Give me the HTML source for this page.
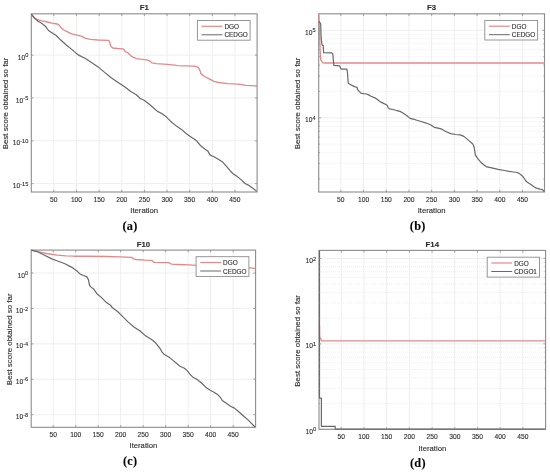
<!DOCTYPE html>
<html><head><meta charset="utf-8"><title>Convergence curves</title>
<style>
html,body{margin:0;padding:0;background:#fff;}
body{width:550px;height:473px;overflow:hidden;}
svg{display:block;}
text{font-family:"Liberation Sans",Arial,sans-serif;fill:#2e2e2e;stroke:#2e2e2e;stroke-width:0.12px;}
text.sub{font-family:"Liberation Serif",serif;font-weight:bold;font-size:12.3px;letter-spacing:0.3px;fill:#000;}
</style></head><body>
<svg width="550" height="473" viewBox="0 0 550 473">
<rect width="550" height="473" fill="#fff"/>
<g>
<g>
<line x1="53.84" y1="13.80" x2="53.84" y2="192.00" stroke="#eeeeee" stroke-width="1"/>
<line x1="76.48" y1="13.80" x2="76.48" y2="192.00" stroke="#eeeeee" stroke-width="1"/>
<line x1="99.12" y1="13.80" x2="99.12" y2="192.00" stroke="#eeeeee" stroke-width="1"/>
<line x1="121.76" y1="13.80" x2="121.76" y2="192.00" stroke="#eeeeee" stroke-width="1"/>
<line x1="144.40" y1="13.80" x2="144.40" y2="192.00" stroke="#eeeeee" stroke-width="1"/>
<line x1="167.04" y1="13.80" x2="167.04" y2="192.00" stroke="#eeeeee" stroke-width="1"/>
<line x1="189.68" y1="13.80" x2="189.68" y2="192.00" stroke="#eeeeee" stroke-width="1"/>
<line x1="212.32" y1="13.80" x2="212.32" y2="192.00" stroke="#eeeeee" stroke-width="1"/>
<line x1="234.96" y1="13.80" x2="234.96" y2="192.00" stroke="#eeeeee" stroke-width="1"/>
<line x1="31.30" y1="55.10" x2="257.10" y2="55.10" stroke="#eeeeee" stroke-width="1"/>
<line x1="31.30" y1="97.93" x2="257.10" y2="97.93" stroke="#eeeeee" stroke-width="1"/>
<line x1="31.30" y1="140.77" x2="257.10" y2="140.77" stroke="#eeeeee" stroke-width="1"/>
<line x1="31.30" y1="183.60" x2="257.10" y2="183.60" stroke="#eeeeee" stroke-width="1"/>
<rect x="31.30" y="13.80" width="225.80" height="178.20" fill="none" stroke="#8c8c8c" stroke-width="1.1"/>
<polyline points="31.30,14.20 34.40,18.00 37.60,19.60 42.00,20.90 47.50,22.00 51.80,23.10 57.30,24.00 58.90,24.90 61.10,27.80 63.80,30.00 67.10,31.60 71.50,33.80 76.90,35.10 81.30,36.20 85.00,38.20 90.50,39.30 98.10,40.00 108.50,40.40 109.50,41.50 110.60,45.80 112.80,48.00 117.70,48.50 123.20,48.80 124.30,50.20 125.40,51.80 127.50,52.40 129.70,54.50 131.90,56.70 136.30,58.60 140.60,59.20 146.50,59.80 149.30,60.60 152.00,62.90 156.40,63.60 167.30,64.40 174.90,65.10 177.10,65.60 185.80,65.80 193.50,66.10 196.70,66.60 198.50,67.70 200.00,70.60 200.90,73.60 204.50,76.50 209.20,78.90 213.90,81.30 218.60,82.50 228.10,83.60 237.60,84.20 242.30,84.60 245.80,85.40 257.00,86.00" fill="none" stroke="#e28a8a" stroke-width="1.35" stroke-linejoin="round"/>
<polyline points="31.30,14.20 34.40,18.00 38.20,21.30 42.00,23.50 45.30,26.20 48.50,30.50 51.80,32.70 56.20,35.50 60.50,39.80 66.00,44.70 71.50,49.10 75.80,52.90 79.10,55.40 85.00,58.20 91.50,62.50 98.10,66.90 104.60,72.40 111.20,77.80 117.70,82.20 124.30,86.50 130.80,91.50 136.30,94.70 140.00,98.30 144.40,100.50 148.70,103.70 153.10,107.50 157.50,111.40 161.80,113.50 166.20,116.80 170.50,121.20 177.10,126.60 181.50,129.40 185.80,133.20 190.20,136.50 194.50,139.20 197.00,141.20 200.10,145.20 205.20,149.20 207.70,150.90 210.20,155.10 214.00,156.80 217.90,159.10 222.90,162.30 226.70,166.70 230.50,171.20 233.10,173.70 236.90,176.30 240.70,179.40 245.10,183.50 248.30,185.10 252.10,187.70 256.80,191.40" fill="none" stroke="#686868" stroke-width="1.2" stroke-linejoin="round"/>
<line x1="53.84" y1="192.00" x2="53.84" y2="189.80" stroke="#8c8c8c" stroke-width="0.8"/>
<line x1="53.84" y1="13.80" x2="53.84" y2="16.00" stroke="#8c8c8c" stroke-width="0.8"/>
<line x1="76.48" y1="192.00" x2="76.48" y2="189.80" stroke="#8c8c8c" stroke-width="0.8"/>
<line x1="76.48" y1="13.80" x2="76.48" y2="16.00" stroke="#8c8c8c" stroke-width="0.8"/>
<line x1="99.12" y1="192.00" x2="99.12" y2="189.80" stroke="#8c8c8c" stroke-width="0.8"/>
<line x1="99.12" y1="13.80" x2="99.12" y2="16.00" stroke="#8c8c8c" stroke-width="0.8"/>
<line x1="121.76" y1="192.00" x2="121.76" y2="189.80" stroke="#8c8c8c" stroke-width="0.8"/>
<line x1="121.76" y1="13.80" x2="121.76" y2="16.00" stroke="#8c8c8c" stroke-width="0.8"/>
<line x1="144.40" y1="192.00" x2="144.40" y2="189.80" stroke="#8c8c8c" stroke-width="0.8"/>
<line x1="144.40" y1="13.80" x2="144.40" y2="16.00" stroke="#8c8c8c" stroke-width="0.8"/>
<line x1="167.04" y1="192.00" x2="167.04" y2="189.80" stroke="#8c8c8c" stroke-width="0.8"/>
<line x1="167.04" y1="13.80" x2="167.04" y2="16.00" stroke="#8c8c8c" stroke-width="0.8"/>
<line x1="189.68" y1="192.00" x2="189.68" y2="189.80" stroke="#8c8c8c" stroke-width="0.8"/>
<line x1="189.68" y1="13.80" x2="189.68" y2="16.00" stroke="#8c8c8c" stroke-width="0.8"/>
<line x1="212.32" y1="192.00" x2="212.32" y2="189.80" stroke="#8c8c8c" stroke-width="0.8"/>
<line x1="212.32" y1="13.80" x2="212.32" y2="16.00" stroke="#8c8c8c" stroke-width="0.8"/>
<line x1="234.96" y1="192.00" x2="234.96" y2="189.80" stroke="#8c8c8c" stroke-width="0.8"/>
<line x1="234.96" y1="13.80" x2="234.96" y2="16.00" stroke="#8c8c8c" stroke-width="0.8"/>
<line x1="31.30" y1="55.10" x2="33.50" y2="55.10" stroke="#8c8c8c" stroke-width="0.8"/>
<line x1="257.10" y1="55.10" x2="254.90" y2="55.10" stroke="#8c8c8c" stroke-width="0.8"/>
<line x1="31.30" y1="97.93" x2="33.50" y2="97.93" stroke="#8c8c8c" stroke-width="0.8"/>
<line x1="257.10" y1="97.93" x2="254.90" y2="97.93" stroke="#8c8c8c" stroke-width="0.8"/>
<line x1="31.30" y1="140.77" x2="33.50" y2="140.77" stroke="#8c8c8c" stroke-width="0.8"/>
<line x1="257.10" y1="140.77" x2="254.90" y2="140.77" stroke="#8c8c8c" stroke-width="0.8"/>
<line x1="31.30" y1="183.60" x2="33.50" y2="183.60" stroke="#8c8c8c" stroke-width="0.8"/>
<line x1="257.10" y1="183.60" x2="254.90" y2="183.60" stroke="#8c8c8c" stroke-width="0.8"/>
<text x="53.84" y="201.50" text-anchor="middle" font-size="6.7">50</text>
<text x="76.48" y="201.50" text-anchor="middle" font-size="6.7">100</text>
<text x="99.12" y="201.50" text-anchor="middle" font-size="6.7">150</text>
<text x="121.76" y="201.50" text-anchor="middle" font-size="6.7">200</text>
<text x="144.40" y="201.50" text-anchor="middle" font-size="6.7">250</text>
<text x="167.04" y="201.50" text-anchor="middle" font-size="6.7">300</text>
<text x="189.68" y="201.50" text-anchor="middle" font-size="6.7">350</text>
<text x="212.32" y="201.50" text-anchor="middle" font-size="6.7">400</text>
<text x="234.96" y="201.50" text-anchor="middle" font-size="6.7">450</text>
<text x="28.30" y="59.70" text-anchor="end" font-size="6.7">10<tspan dy="-2.5" font-size="5.6">0</tspan></text>
<text x="28.30" y="102.53" text-anchor="end" font-size="6.7">10<tspan dy="-2.5" font-size="5.6">-5</tspan></text>
<text x="28.30" y="145.37" text-anchor="end" font-size="6.7">10<tspan dy="-2.5" font-size="5.6">-10</tspan></text>
<text x="28.30" y="188.20" text-anchor="end" font-size="6.7">10<tspan dy="-2.5" font-size="5.6">-15</tspan></text>
<text x="144.20" y="10.20" text-anchor="middle" font-size="7.8" font-weight="bold" fill="#111">F1</text>
<text x="144.20" y="212.60" text-anchor="middle" font-size="7.7">Iteration</text>
<text transform="translate(7.90,103.50) rotate(-90)" text-anchor="middle" font-size="7.9">Best score obtained so far</text>
<rect x="197.40" y="20.50" width="52.70" height="19.70" fill="#fff" stroke="#8c8c8c" stroke-width="0.9"/>
<line x1="201.50" y1="26.30" x2="222.40" y2="26.30" stroke="#e28a8a" stroke-width="1.2"/>
<line x1="201.50" y1="34.80" x2="222.40" y2="34.80" stroke="#686868" stroke-width="1.0"/>
<text x="224.40" y="28.90" font-size="6.4">DGO</text>
<text x="224.40" y="37.40" font-size="6.4">CEDGO</text>
<text x="130.00" y="230.20" text-anchor="middle" class="sub">(a)</text>
</g>
<g>
<line x1="318.70" y1="178.96" x2="544.50" y2="178.96" stroke="#eeeeee" stroke-width="1" stroke-dasharray="1 1"/>
<line x1="318.70" y1="163.55" x2="544.50" y2="163.55" stroke="#eeeeee" stroke-width="1" stroke-dasharray="1 1"/>
<line x1="318.70" y1="152.62" x2="544.50" y2="152.62" stroke="#eeeeee" stroke-width="1" stroke-dasharray="1 1"/>
<line x1="318.70" y1="144.14" x2="544.50" y2="144.14" stroke="#eeeeee" stroke-width="1" stroke-dasharray="1 1"/>
<line x1="318.70" y1="137.21" x2="544.50" y2="137.21" stroke="#eeeeee" stroke-width="1" stroke-dasharray="1 1"/>
<line x1="318.70" y1="131.35" x2="544.50" y2="131.35" stroke="#eeeeee" stroke-width="1" stroke-dasharray="1 1"/>
<line x1="318.70" y1="126.28" x2="544.50" y2="126.28" stroke="#eeeeee" stroke-width="1" stroke-dasharray="1 1"/>
<line x1="318.70" y1="121.80" x2="544.50" y2="121.80" stroke="#eeeeee" stroke-width="1" stroke-dasharray="1 1"/>
<line x1="318.70" y1="91.46" x2="544.50" y2="91.46" stroke="#eeeeee" stroke-width="1" stroke-dasharray="1 1"/>
<line x1="318.70" y1="76.05" x2="544.50" y2="76.05" stroke="#eeeeee" stroke-width="1" stroke-dasharray="1 1"/>
<line x1="318.70" y1="65.12" x2="544.50" y2="65.12" stroke="#eeeeee" stroke-width="1" stroke-dasharray="1 1"/>
<line x1="318.70" y1="56.64" x2="544.50" y2="56.64" stroke="#eeeeee" stroke-width="1" stroke-dasharray="1 1"/>
<line x1="318.70" y1="49.71" x2="544.50" y2="49.71" stroke="#eeeeee" stroke-width="1" stroke-dasharray="1 1"/>
<line x1="318.70" y1="43.85" x2="544.50" y2="43.85" stroke="#eeeeee" stroke-width="1" stroke-dasharray="1 1"/>
<line x1="318.70" y1="38.78" x2="544.50" y2="38.78" stroke="#eeeeee" stroke-width="1" stroke-dasharray="1 1"/>
<line x1="318.70" y1="34.30" x2="544.50" y2="34.30" stroke="#eeeeee" stroke-width="1" stroke-dasharray="1 1"/>
<line x1="340.85" y1="13.80" x2="340.85" y2="192.00" stroke="#eeeeee" stroke-width="1"/>
<line x1="363.56" y1="13.80" x2="363.56" y2="192.00" stroke="#eeeeee" stroke-width="1"/>
<line x1="386.26" y1="13.80" x2="386.26" y2="192.00" stroke="#eeeeee" stroke-width="1"/>
<line x1="408.97" y1="13.80" x2="408.97" y2="192.00" stroke="#eeeeee" stroke-width="1"/>
<line x1="431.67" y1="13.80" x2="431.67" y2="192.00" stroke="#eeeeee" stroke-width="1"/>
<line x1="454.38" y1="13.80" x2="454.38" y2="192.00" stroke="#eeeeee" stroke-width="1"/>
<line x1="477.08" y1="13.80" x2="477.08" y2="192.00" stroke="#eeeeee" stroke-width="1"/>
<line x1="499.79" y1="13.80" x2="499.79" y2="192.00" stroke="#eeeeee" stroke-width="1"/>
<line x1="522.49" y1="13.80" x2="522.49" y2="192.00" stroke="#eeeeee" stroke-width="1"/>
<line x1="318.70" y1="117.80" x2="544.50" y2="117.80" stroke="#eeeeee" stroke-width="1"/>
<line x1="318.70" y1="30.30" x2="544.50" y2="30.30" stroke="#eeeeee" stroke-width="1"/>
<rect x="318.70" y="13.80" width="225.80" height="178.20" fill="none" stroke="#8c8c8c" stroke-width="1.1"/>
<polyline points="318.80,14.00 319.40,27.20 320.10,50.00 320.70,59.60 322.60,62.70 324.00,62.95 544.50,62.95" fill="none" stroke="#e28a8a" stroke-width="1.35" stroke-linejoin="round"/>
<polyline points="318.90,21.50 320.10,22.80 320.70,24.00 321.10,37.40 322.00,45.00 323.20,45.60 323.60,52.60 331.50,52.80 332.80,53.90 333.80,65.30 339.70,65.90 341.00,69.10 346.90,69.10 347.50,72.70 348.20,82.80 348.80,83.50 352.00,85.40 354.50,86.60 357.10,87.30 357.70,89.80 359.00,91.10 360.90,93.20 363.40,93.60 366.60,94.00 368.50,94.90 371.00,96.20 375.40,98.10 378.00,100.00 380.50,101.90 383.00,103.10 386.90,105.00 388.10,107.60 389.40,108.80 393.20,109.50 397.00,110.70 400.00,111.40 402.50,112.70 406.30,115.20 410.10,118.40 415.20,119.70 420.30,121.30 425.40,122.80 430.40,124.70 434.30,127.30 438.10,128.20 441.90,129.20 445.70,131.50 450.70,133.60 455.80,134.50 460.10,134.90 463.90,136.40 467.70,139.60 472.80,144.00 474.00,146.60 474.70,150.40 475.30,154.80 477.80,158.60 481.60,163.10 486.70,166.90 491.80,167.90 498.10,169.40 504.50,170.50 509.10,171.40 513.60,172.00 517.30,172.50 519.50,173.60 521.80,175.50 523.60,177.30 525.50,180.50 527.30,182.30 530.90,184.50 533.60,186.40 536.40,188.20 540.00,189.10 542.30,189.50 544.30,191.60" fill="none" stroke="#686868" stroke-width="1.2" stroke-linejoin="round"/>
<line x1="340.85" y1="192.00" x2="340.85" y2="189.80" stroke="#8c8c8c" stroke-width="0.8"/>
<line x1="340.85" y1="13.80" x2="340.85" y2="16.00" stroke="#8c8c8c" stroke-width="0.8"/>
<line x1="363.56" y1="192.00" x2="363.56" y2="189.80" stroke="#8c8c8c" stroke-width="0.8"/>
<line x1="363.56" y1="13.80" x2="363.56" y2="16.00" stroke="#8c8c8c" stroke-width="0.8"/>
<line x1="386.26" y1="192.00" x2="386.26" y2="189.80" stroke="#8c8c8c" stroke-width="0.8"/>
<line x1="386.26" y1="13.80" x2="386.26" y2="16.00" stroke="#8c8c8c" stroke-width="0.8"/>
<line x1="408.97" y1="192.00" x2="408.97" y2="189.80" stroke="#8c8c8c" stroke-width="0.8"/>
<line x1="408.97" y1="13.80" x2="408.97" y2="16.00" stroke="#8c8c8c" stroke-width="0.8"/>
<line x1="431.67" y1="192.00" x2="431.67" y2="189.80" stroke="#8c8c8c" stroke-width="0.8"/>
<line x1="431.67" y1="13.80" x2="431.67" y2="16.00" stroke="#8c8c8c" stroke-width="0.8"/>
<line x1="454.38" y1="192.00" x2="454.38" y2="189.80" stroke="#8c8c8c" stroke-width="0.8"/>
<line x1="454.38" y1="13.80" x2="454.38" y2="16.00" stroke="#8c8c8c" stroke-width="0.8"/>
<line x1="477.08" y1="192.00" x2="477.08" y2="189.80" stroke="#8c8c8c" stroke-width="0.8"/>
<line x1="477.08" y1="13.80" x2="477.08" y2="16.00" stroke="#8c8c8c" stroke-width="0.8"/>
<line x1="499.79" y1="192.00" x2="499.79" y2="189.80" stroke="#8c8c8c" stroke-width="0.8"/>
<line x1="499.79" y1="13.80" x2="499.79" y2="16.00" stroke="#8c8c8c" stroke-width="0.8"/>
<line x1="522.49" y1="192.00" x2="522.49" y2="189.80" stroke="#8c8c8c" stroke-width="0.8"/>
<line x1="522.49" y1="13.80" x2="522.49" y2="16.00" stroke="#8c8c8c" stroke-width="0.8"/>
<line x1="318.70" y1="117.80" x2="320.90" y2="117.80" stroke="#8c8c8c" stroke-width="0.8"/>
<line x1="544.50" y1="117.80" x2="542.30" y2="117.80" stroke="#8c8c8c" stroke-width="0.8"/>
<line x1="318.70" y1="30.30" x2="320.90" y2="30.30" stroke="#8c8c8c" stroke-width="0.8"/>
<line x1="544.50" y1="30.30" x2="542.30" y2="30.30" stroke="#8c8c8c" stroke-width="0.8"/>
<line x1="318.70" y1="178.96" x2="319.90" y2="178.96" stroke="#8c8c8c" stroke-width="0.7"/>
<line x1="544.50" y1="178.96" x2="543.30" y2="178.96" stroke="#8c8c8c" stroke-width="0.7"/>
<line x1="318.70" y1="163.55" x2="319.90" y2="163.55" stroke="#8c8c8c" stroke-width="0.7"/>
<line x1="544.50" y1="163.55" x2="543.30" y2="163.55" stroke="#8c8c8c" stroke-width="0.7"/>
<line x1="318.70" y1="152.62" x2="319.90" y2="152.62" stroke="#8c8c8c" stroke-width="0.7"/>
<line x1="544.50" y1="152.62" x2="543.30" y2="152.62" stroke="#8c8c8c" stroke-width="0.7"/>
<line x1="318.70" y1="144.14" x2="319.90" y2="144.14" stroke="#8c8c8c" stroke-width="0.7"/>
<line x1="544.50" y1="144.14" x2="543.30" y2="144.14" stroke="#8c8c8c" stroke-width="0.7"/>
<line x1="318.70" y1="137.21" x2="319.90" y2="137.21" stroke="#8c8c8c" stroke-width="0.7"/>
<line x1="544.50" y1="137.21" x2="543.30" y2="137.21" stroke="#8c8c8c" stroke-width="0.7"/>
<line x1="318.70" y1="131.35" x2="319.90" y2="131.35" stroke="#8c8c8c" stroke-width="0.7"/>
<line x1="544.50" y1="131.35" x2="543.30" y2="131.35" stroke="#8c8c8c" stroke-width="0.7"/>
<line x1="318.70" y1="126.28" x2="319.90" y2="126.28" stroke="#8c8c8c" stroke-width="0.7"/>
<line x1="544.50" y1="126.28" x2="543.30" y2="126.28" stroke="#8c8c8c" stroke-width="0.7"/>
<line x1="318.70" y1="121.80" x2="319.90" y2="121.80" stroke="#8c8c8c" stroke-width="0.7"/>
<line x1="544.50" y1="121.80" x2="543.30" y2="121.80" stroke="#8c8c8c" stroke-width="0.7"/>
<line x1="318.70" y1="91.46" x2="319.90" y2="91.46" stroke="#8c8c8c" stroke-width="0.7"/>
<line x1="544.50" y1="91.46" x2="543.30" y2="91.46" stroke="#8c8c8c" stroke-width="0.7"/>
<line x1="318.70" y1="76.05" x2="319.90" y2="76.05" stroke="#8c8c8c" stroke-width="0.7"/>
<line x1="544.50" y1="76.05" x2="543.30" y2="76.05" stroke="#8c8c8c" stroke-width="0.7"/>
<line x1="318.70" y1="65.12" x2="319.90" y2="65.12" stroke="#8c8c8c" stroke-width="0.7"/>
<line x1="544.50" y1="65.12" x2="543.30" y2="65.12" stroke="#8c8c8c" stroke-width="0.7"/>
<line x1="318.70" y1="56.64" x2="319.90" y2="56.64" stroke="#8c8c8c" stroke-width="0.7"/>
<line x1="544.50" y1="56.64" x2="543.30" y2="56.64" stroke="#8c8c8c" stroke-width="0.7"/>
<line x1="318.70" y1="49.71" x2="319.90" y2="49.71" stroke="#8c8c8c" stroke-width="0.7"/>
<line x1="544.50" y1="49.71" x2="543.30" y2="49.71" stroke="#8c8c8c" stroke-width="0.7"/>
<line x1="318.70" y1="43.85" x2="319.90" y2="43.85" stroke="#8c8c8c" stroke-width="0.7"/>
<line x1="544.50" y1="43.85" x2="543.30" y2="43.85" stroke="#8c8c8c" stroke-width="0.7"/>
<line x1="318.70" y1="38.78" x2="319.90" y2="38.78" stroke="#8c8c8c" stroke-width="0.7"/>
<line x1="544.50" y1="38.78" x2="543.30" y2="38.78" stroke="#8c8c8c" stroke-width="0.7"/>
<line x1="318.70" y1="34.30" x2="319.90" y2="34.30" stroke="#8c8c8c" stroke-width="0.7"/>
<line x1="544.50" y1="34.30" x2="543.30" y2="34.30" stroke="#8c8c8c" stroke-width="0.7"/>
<text x="340.85" y="201.50" text-anchor="middle" font-size="6.7">50</text>
<text x="363.56" y="201.50" text-anchor="middle" font-size="6.7">100</text>
<text x="386.26" y="201.50" text-anchor="middle" font-size="6.7">150</text>
<text x="408.97" y="201.50" text-anchor="middle" font-size="6.7">200</text>
<text x="431.67" y="201.50" text-anchor="middle" font-size="6.7">250</text>
<text x="454.38" y="201.50" text-anchor="middle" font-size="6.7">300</text>
<text x="477.08" y="201.50" text-anchor="middle" font-size="6.7">350</text>
<text x="499.79" y="201.50" text-anchor="middle" font-size="6.7">400</text>
<text x="522.49" y="201.50" text-anchor="middle" font-size="6.7">450</text>
<text x="315.70" y="122.40" text-anchor="end" font-size="6.7">10<tspan dy="-2.5" font-size="5.6">4</tspan></text>
<text x="315.70" y="34.90" text-anchor="end" font-size="6.7">10<tspan dy="-2.5" font-size="5.6">5</tspan></text>
<text x="431.60" y="10.20" text-anchor="middle" font-size="7.8" font-weight="bold" fill="#111">F3</text>
<text x="431.60" y="212.60" text-anchor="middle" font-size="7.7">Iteration</text>
<text transform="translate(299.90,103.50) rotate(-90)" text-anchor="middle" font-size="7.9">Best score obtained so far</text>
<rect x="484.80" y="20.40" width="52.80" height="19.60" fill="#fff" stroke="#8c8c8c" stroke-width="0.9"/>
<line x1="488.90" y1="26.20" x2="509.80" y2="26.20" stroke="#e28a8a" stroke-width="1.2"/>
<line x1="488.90" y1="34.70" x2="509.80" y2="34.70" stroke="#686868" stroke-width="1.0"/>
<text x="511.80" y="28.80" font-size="6.4">DGO</text>
<text x="511.80" y="37.30" font-size="6.4">CEDGO</text>
<text x="417.80" y="230.20" text-anchor="middle" class="sub">(b)</text>
</g>
<g>
<line x1="53.24" y1="250.10" x2="53.24" y2="427.30" stroke="#eeeeee" stroke-width="1"/>
<line x1="75.72" y1="250.10" x2="75.72" y2="427.30" stroke="#eeeeee" stroke-width="1"/>
<line x1="98.21" y1="250.10" x2="98.21" y2="427.30" stroke="#eeeeee" stroke-width="1"/>
<line x1="120.69" y1="250.10" x2="120.69" y2="427.30" stroke="#eeeeee" stroke-width="1"/>
<line x1="143.18" y1="250.10" x2="143.18" y2="427.30" stroke="#eeeeee" stroke-width="1"/>
<line x1="165.66" y1="250.10" x2="165.66" y2="427.30" stroke="#eeeeee" stroke-width="1"/>
<line x1="188.15" y1="250.10" x2="188.15" y2="427.30" stroke="#eeeeee" stroke-width="1"/>
<line x1="210.63" y1="250.10" x2="210.63" y2="427.30" stroke="#eeeeee" stroke-width="1"/>
<line x1="233.12" y1="250.10" x2="233.12" y2="427.30" stroke="#eeeeee" stroke-width="1"/>
<line x1="31.20" y1="273.00" x2="255.60" y2="273.00" stroke="#eeeeee" stroke-width="1"/>
<line x1="31.20" y1="308.43" x2="255.60" y2="308.43" stroke="#eeeeee" stroke-width="1"/>
<line x1="31.20" y1="343.85" x2="255.60" y2="343.85" stroke="#eeeeee" stroke-width="1"/>
<line x1="31.20" y1="379.27" x2="255.60" y2="379.27" stroke="#eeeeee" stroke-width="1"/>
<line x1="31.20" y1="414.70" x2="255.60" y2="414.70" stroke="#eeeeee" stroke-width="1"/>
<rect x="31.20" y="250.10" width="224.40" height="177.20" fill="none" stroke="#8c8c8c" stroke-width="1.1"/>
<polyline points="31.20,250.20 38.70,251.80 46.40,253.50 57.30,255.10 66.00,255.90 73.60,256.20 85.00,256.20 106.80,256.50 119.90,256.90 131.90,257.30 133.50,258.90 136.30,259.50 145.00,260.20 152.00,260.30 153.60,262.40 168.40,262.70 171.60,264.20 178.20,264.50 189.10,264.90 196.20,265.30 249.10,267.90 255.60,268.30" fill="none" stroke="#e28a8a" stroke-width="1.35" stroke-linejoin="round"/>
<polyline points="31.20,250.20 36.50,251.30 43.10,254.50 51.80,258.90 56.20,260.50 64.90,263.80 71.50,267.10 76.90,270.90 80.20,274.20 83.50,275.50 86.70,276.60 88.40,279.60 89.50,285.10 90.50,286.60 93.90,289.30 96.90,293.70 101.30,297.40 105.70,301.90 110.90,305.60 112.40,307.80 117.60,311.50 122.00,315.90 128.00,321.90 133.90,327.00 139.80,330.70 145.90,336.10 151.90,339.80 155.60,342.80 157.80,345.70 160.70,349.40 162.20,352.40 164.40,354.60 169.60,357.60 173.30,360.60 177.00,363.80 180.00,366.20 184.40,368.30 187.40,370.90 189.60,373.90 192.60,376.90 196.30,379.10 200.10,381.70 202.60,384.00 206.40,387.80 210.20,390.30 214.00,392.20 217.90,394.80 220.40,397.30 222.30,400.50 226.70,403.60 230.50,406.20 234.40,408.10 238.20,411.30 243.20,415.70 248.30,420.10 255.00,427.00" fill="none" stroke="#686868" stroke-width="1.2" stroke-linejoin="round"/>
<line x1="53.24" y1="427.30" x2="53.24" y2="425.10" stroke="#8c8c8c" stroke-width="0.8"/>
<line x1="53.24" y1="250.10" x2="53.24" y2="252.30" stroke="#8c8c8c" stroke-width="0.8"/>
<line x1="75.72" y1="427.30" x2="75.72" y2="425.10" stroke="#8c8c8c" stroke-width="0.8"/>
<line x1="75.72" y1="250.10" x2="75.72" y2="252.30" stroke="#8c8c8c" stroke-width="0.8"/>
<line x1="98.21" y1="427.30" x2="98.21" y2="425.10" stroke="#8c8c8c" stroke-width="0.8"/>
<line x1="98.21" y1="250.10" x2="98.21" y2="252.30" stroke="#8c8c8c" stroke-width="0.8"/>
<line x1="120.69" y1="427.30" x2="120.69" y2="425.10" stroke="#8c8c8c" stroke-width="0.8"/>
<line x1="120.69" y1="250.10" x2="120.69" y2="252.30" stroke="#8c8c8c" stroke-width="0.8"/>
<line x1="143.18" y1="427.30" x2="143.18" y2="425.10" stroke="#8c8c8c" stroke-width="0.8"/>
<line x1="143.18" y1="250.10" x2="143.18" y2="252.30" stroke="#8c8c8c" stroke-width="0.8"/>
<line x1="165.66" y1="427.30" x2="165.66" y2="425.10" stroke="#8c8c8c" stroke-width="0.8"/>
<line x1="165.66" y1="250.10" x2="165.66" y2="252.30" stroke="#8c8c8c" stroke-width="0.8"/>
<line x1="188.15" y1="427.30" x2="188.15" y2="425.10" stroke="#8c8c8c" stroke-width="0.8"/>
<line x1="188.15" y1="250.10" x2="188.15" y2="252.30" stroke="#8c8c8c" stroke-width="0.8"/>
<line x1="210.63" y1="427.30" x2="210.63" y2="425.10" stroke="#8c8c8c" stroke-width="0.8"/>
<line x1="210.63" y1="250.10" x2="210.63" y2="252.30" stroke="#8c8c8c" stroke-width="0.8"/>
<line x1="233.12" y1="427.30" x2="233.12" y2="425.10" stroke="#8c8c8c" stroke-width="0.8"/>
<line x1="233.12" y1="250.10" x2="233.12" y2="252.30" stroke="#8c8c8c" stroke-width="0.8"/>
<line x1="31.20" y1="273.00" x2="33.40" y2="273.00" stroke="#8c8c8c" stroke-width="0.8"/>
<line x1="255.60" y1="273.00" x2="253.40" y2="273.00" stroke="#8c8c8c" stroke-width="0.8"/>
<line x1="31.20" y1="308.43" x2="33.40" y2="308.43" stroke="#8c8c8c" stroke-width="0.8"/>
<line x1="255.60" y1="308.43" x2="253.40" y2="308.43" stroke="#8c8c8c" stroke-width="0.8"/>
<line x1="31.20" y1="343.85" x2="33.40" y2="343.85" stroke="#8c8c8c" stroke-width="0.8"/>
<line x1="255.60" y1="343.85" x2="253.40" y2="343.85" stroke="#8c8c8c" stroke-width="0.8"/>
<line x1="31.20" y1="379.27" x2="33.40" y2="379.27" stroke="#8c8c8c" stroke-width="0.8"/>
<line x1="255.60" y1="379.27" x2="253.40" y2="379.27" stroke="#8c8c8c" stroke-width="0.8"/>
<line x1="31.20" y1="414.70" x2="33.40" y2="414.70" stroke="#8c8c8c" stroke-width="0.8"/>
<line x1="255.60" y1="414.70" x2="253.40" y2="414.70" stroke="#8c8c8c" stroke-width="0.8"/>
<text x="53.24" y="436.80" text-anchor="middle" font-size="6.7">50</text>
<text x="75.72" y="436.80" text-anchor="middle" font-size="6.7">100</text>
<text x="98.21" y="436.80" text-anchor="middle" font-size="6.7">150</text>
<text x="120.69" y="436.80" text-anchor="middle" font-size="6.7">200</text>
<text x="143.18" y="436.80" text-anchor="middle" font-size="6.7">250</text>
<text x="165.66" y="436.80" text-anchor="middle" font-size="6.7">300</text>
<text x="188.15" y="436.80" text-anchor="middle" font-size="6.7">350</text>
<text x="210.63" y="436.80" text-anchor="middle" font-size="6.7">400</text>
<text x="233.12" y="436.80" text-anchor="middle" font-size="6.7">450</text>
<text x="28.20" y="277.60" text-anchor="end" font-size="6.7">10<tspan dy="-2.5" font-size="5.6">0</tspan></text>
<text x="28.20" y="313.03" text-anchor="end" font-size="6.7">10<tspan dy="-2.5" font-size="5.6">-2</tspan></text>
<text x="28.20" y="348.45" text-anchor="end" font-size="6.7">10<tspan dy="-2.5" font-size="5.6">-4</tspan></text>
<text x="28.20" y="383.88" text-anchor="end" font-size="6.7">10<tspan dy="-2.5" font-size="5.6">-6</tspan></text>
<text x="28.20" y="419.30" text-anchor="end" font-size="6.7">10<tspan dy="-2.5" font-size="5.6">-8</tspan></text>
<text x="143.40" y="246.50" text-anchor="middle" font-size="7.8" font-weight="bold" fill="#111">F10</text>
<text x="143.40" y="448.20" text-anchor="middle" font-size="7.7">Iteration</text>
<text transform="translate(11.90,339.30) rotate(-90)" text-anchor="middle" font-size="7.9">Best score obtained so far</text>
<rect x="196.10" y="256.70" width="52.80" height="19.70" fill="#fff" stroke="#8c8c8c" stroke-width="0.9"/>
<line x1="200.20" y1="262.50" x2="221.10" y2="262.50" stroke="#e28a8a" stroke-width="1.2"/>
<line x1="200.20" y1="271.00" x2="221.10" y2="271.00" stroke="#686868" stroke-width="1.0"/>
<text x="223.10" y="265.10" font-size="6.4">DGO</text>
<text x="223.10" y="273.60" font-size="6.4">CEDGO</text>
<text x="130.20" y="464.90" text-anchor="middle" class="sub">(c)</text>
</g>
<g>
<line x1="319.00" y1="403.58" x2="545.60" y2="403.58" stroke="#eeeeee" stroke-width="1" stroke-dasharray="1 1"/>
<line x1="319.00" y1="388.53" x2="545.60" y2="388.53" stroke="#eeeeee" stroke-width="1" stroke-dasharray="1 1"/>
<line x1="319.00" y1="377.85" x2="545.60" y2="377.85" stroke="#eeeeee" stroke-width="1" stroke-dasharray="1 1"/>
<line x1="319.00" y1="369.57" x2="545.60" y2="369.57" stroke="#eeeeee" stroke-width="1" stroke-dasharray="1 1"/>
<line x1="319.00" y1="362.81" x2="545.60" y2="362.81" stroke="#eeeeee" stroke-width="1" stroke-dasharray="1 1"/>
<line x1="319.00" y1="357.09" x2="545.60" y2="357.09" stroke="#eeeeee" stroke-width="1" stroke-dasharray="1 1"/>
<line x1="319.00" y1="352.13" x2="545.60" y2="352.13" stroke="#eeeeee" stroke-width="1" stroke-dasharray="1 1"/>
<line x1="319.00" y1="347.76" x2="545.60" y2="347.76" stroke="#eeeeee" stroke-width="1" stroke-dasharray="1 1"/>
<line x1="319.00" y1="318.13" x2="545.60" y2="318.13" stroke="#eeeeee" stroke-width="1" stroke-dasharray="1 1"/>
<line x1="319.00" y1="303.08" x2="545.60" y2="303.08" stroke="#eeeeee" stroke-width="1" stroke-dasharray="1 1"/>
<line x1="319.00" y1="292.40" x2="545.60" y2="292.40" stroke="#eeeeee" stroke-width="1" stroke-dasharray="1 1"/>
<line x1="319.00" y1="284.12" x2="545.60" y2="284.12" stroke="#eeeeee" stroke-width="1" stroke-dasharray="1 1"/>
<line x1="319.00" y1="277.36" x2="545.60" y2="277.36" stroke="#eeeeee" stroke-width="1" stroke-dasharray="1 1"/>
<line x1="319.00" y1="271.64" x2="545.60" y2="271.64" stroke="#eeeeee" stroke-width="1" stroke-dasharray="1 1"/>
<line x1="319.00" y1="266.68" x2="545.60" y2="266.68" stroke="#eeeeee" stroke-width="1" stroke-dasharray="1 1"/>
<line x1="319.00" y1="262.31" x2="545.60" y2="262.31" stroke="#eeeeee" stroke-width="1" stroke-dasharray="1 1"/>
<line x1="341.25" y1="250.40" x2="341.25" y2="429.30" stroke="#eeeeee" stroke-width="1"/>
<line x1="363.96" y1="250.40" x2="363.96" y2="429.30" stroke="#eeeeee" stroke-width="1"/>
<line x1="386.66" y1="250.40" x2="386.66" y2="429.30" stroke="#eeeeee" stroke-width="1"/>
<line x1="409.37" y1="250.40" x2="409.37" y2="429.30" stroke="#eeeeee" stroke-width="1"/>
<line x1="432.07" y1="250.40" x2="432.07" y2="429.30" stroke="#eeeeee" stroke-width="1"/>
<line x1="454.78" y1="250.40" x2="454.78" y2="429.30" stroke="#eeeeee" stroke-width="1"/>
<line x1="477.48" y1="250.40" x2="477.48" y2="429.30" stroke="#eeeeee" stroke-width="1"/>
<line x1="500.19" y1="250.40" x2="500.19" y2="429.30" stroke="#eeeeee" stroke-width="1"/>
<line x1="522.89" y1="250.40" x2="522.89" y2="429.30" stroke="#eeeeee" stroke-width="1"/>
<line x1="319.00" y1="429.30" x2="545.60" y2="429.30" stroke="#eeeeee" stroke-width="1"/>
<line x1="319.00" y1="343.85" x2="545.60" y2="343.85" stroke="#eeeeee" stroke-width="1"/>
<line x1="319.00" y1="258.40" x2="545.60" y2="258.40" stroke="#eeeeee" stroke-width="1"/>
<rect x="319.00" y="250.40" width="226.60" height="178.90" fill="none" stroke="#8c8c8c" stroke-width="1.1"/>
<polyline points="319.50,326.00 319.60,336.80 321.60,340.80 545.60,340.80" fill="none" stroke="#e28a8a" stroke-width="1.35" stroke-linejoin="round"/>
<polyline points="319.50,250.40 319.50,398.10 321.40,398.10 321.40,426.30 335.20,426.30 335.20,429.20 545.60,429.20" fill="none" stroke="#686868" stroke-width="1.2" stroke-linejoin="round"/>
<line x1="341.25" y1="429.30" x2="341.25" y2="427.10" stroke="#8c8c8c" stroke-width="0.8"/>
<line x1="341.25" y1="250.40" x2="341.25" y2="252.60" stroke="#8c8c8c" stroke-width="0.8"/>
<line x1="363.96" y1="429.30" x2="363.96" y2="427.10" stroke="#8c8c8c" stroke-width="0.8"/>
<line x1="363.96" y1="250.40" x2="363.96" y2="252.60" stroke="#8c8c8c" stroke-width="0.8"/>
<line x1="386.66" y1="429.30" x2="386.66" y2="427.10" stroke="#8c8c8c" stroke-width="0.8"/>
<line x1="386.66" y1="250.40" x2="386.66" y2="252.60" stroke="#8c8c8c" stroke-width="0.8"/>
<line x1="409.37" y1="429.30" x2="409.37" y2="427.10" stroke="#8c8c8c" stroke-width="0.8"/>
<line x1="409.37" y1="250.40" x2="409.37" y2="252.60" stroke="#8c8c8c" stroke-width="0.8"/>
<line x1="432.07" y1="429.30" x2="432.07" y2="427.10" stroke="#8c8c8c" stroke-width="0.8"/>
<line x1="432.07" y1="250.40" x2="432.07" y2="252.60" stroke="#8c8c8c" stroke-width="0.8"/>
<line x1="454.78" y1="429.30" x2="454.78" y2="427.10" stroke="#8c8c8c" stroke-width="0.8"/>
<line x1="454.78" y1="250.40" x2="454.78" y2="252.60" stroke="#8c8c8c" stroke-width="0.8"/>
<line x1="477.48" y1="429.30" x2="477.48" y2="427.10" stroke="#8c8c8c" stroke-width="0.8"/>
<line x1="477.48" y1="250.40" x2="477.48" y2="252.60" stroke="#8c8c8c" stroke-width="0.8"/>
<line x1="500.19" y1="429.30" x2="500.19" y2="427.10" stroke="#8c8c8c" stroke-width="0.8"/>
<line x1="500.19" y1="250.40" x2="500.19" y2="252.60" stroke="#8c8c8c" stroke-width="0.8"/>
<line x1="522.89" y1="429.30" x2="522.89" y2="427.10" stroke="#8c8c8c" stroke-width="0.8"/>
<line x1="522.89" y1="250.40" x2="522.89" y2="252.60" stroke="#8c8c8c" stroke-width="0.8"/>
<line x1="319.00" y1="429.30" x2="321.20" y2="429.30" stroke="#8c8c8c" stroke-width="0.8"/>
<line x1="545.60" y1="429.30" x2="543.40" y2="429.30" stroke="#8c8c8c" stroke-width="0.8"/>
<line x1="319.00" y1="343.85" x2="321.20" y2="343.85" stroke="#8c8c8c" stroke-width="0.8"/>
<line x1="545.60" y1="343.85" x2="543.40" y2="343.85" stroke="#8c8c8c" stroke-width="0.8"/>
<line x1="319.00" y1="258.40" x2="321.20" y2="258.40" stroke="#8c8c8c" stroke-width="0.8"/>
<line x1="545.60" y1="258.40" x2="543.40" y2="258.40" stroke="#8c8c8c" stroke-width="0.8"/>
<line x1="319.00" y1="403.58" x2="320.20" y2="403.58" stroke="#8c8c8c" stroke-width="0.7"/>
<line x1="545.60" y1="403.58" x2="544.40" y2="403.58" stroke="#8c8c8c" stroke-width="0.7"/>
<line x1="319.00" y1="388.53" x2="320.20" y2="388.53" stroke="#8c8c8c" stroke-width="0.7"/>
<line x1="545.60" y1="388.53" x2="544.40" y2="388.53" stroke="#8c8c8c" stroke-width="0.7"/>
<line x1="319.00" y1="377.85" x2="320.20" y2="377.85" stroke="#8c8c8c" stroke-width="0.7"/>
<line x1="545.60" y1="377.85" x2="544.40" y2="377.85" stroke="#8c8c8c" stroke-width="0.7"/>
<line x1="319.00" y1="369.57" x2="320.20" y2="369.57" stroke="#8c8c8c" stroke-width="0.7"/>
<line x1="545.60" y1="369.57" x2="544.40" y2="369.57" stroke="#8c8c8c" stroke-width="0.7"/>
<line x1="319.00" y1="362.81" x2="320.20" y2="362.81" stroke="#8c8c8c" stroke-width="0.7"/>
<line x1="545.60" y1="362.81" x2="544.40" y2="362.81" stroke="#8c8c8c" stroke-width="0.7"/>
<line x1="319.00" y1="357.09" x2="320.20" y2="357.09" stroke="#8c8c8c" stroke-width="0.7"/>
<line x1="545.60" y1="357.09" x2="544.40" y2="357.09" stroke="#8c8c8c" stroke-width="0.7"/>
<line x1="319.00" y1="352.13" x2="320.20" y2="352.13" stroke="#8c8c8c" stroke-width="0.7"/>
<line x1="545.60" y1="352.13" x2="544.40" y2="352.13" stroke="#8c8c8c" stroke-width="0.7"/>
<line x1="319.00" y1="347.76" x2="320.20" y2="347.76" stroke="#8c8c8c" stroke-width="0.7"/>
<line x1="545.60" y1="347.76" x2="544.40" y2="347.76" stroke="#8c8c8c" stroke-width="0.7"/>
<line x1="319.00" y1="318.13" x2="320.20" y2="318.13" stroke="#8c8c8c" stroke-width="0.7"/>
<line x1="545.60" y1="318.13" x2="544.40" y2="318.13" stroke="#8c8c8c" stroke-width="0.7"/>
<line x1="319.00" y1="303.08" x2="320.20" y2="303.08" stroke="#8c8c8c" stroke-width="0.7"/>
<line x1="545.60" y1="303.08" x2="544.40" y2="303.08" stroke="#8c8c8c" stroke-width="0.7"/>
<line x1="319.00" y1="292.40" x2="320.20" y2="292.40" stroke="#8c8c8c" stroke-width="0.7"/>
<line x1="545.60" y1="292.40" x2="544.40" y2="292.40" stroke="#8c8c8c" stroke-width="0.7"/>
<line x1="319.00" y1="284.12" x2="320.20" y2="284.12" stroke="#8c8c8c" stroke-width="0.7"/>
<line x1="545.60" y1="284.12" x2="544.40" y2="284.12" stroke="#8c8c8c" stroke-width="0.7"/>
<line x1="319.00" y1="277.36" x2="320.20" y2="277.36" stroke="#8c8c8c" stroke-width="0.7"/>
<line x1="545.60" y1="277.36" x2="544.40" y2="277.36" stroke="#8c8c8c" stroke-width="0.7"/>
<line x1="319.00" y1="271.64" x2="320.20" y2="271.64" stroke="#8c8c8c" stroke-width="0.7"/>
<line x1="545.60" y1="271.64" x2="544.40" y2="271.64" stroke="#8c8c8c" stroke-width="0.7"/>
<line x1="319.00" y1="266.68" x2="320.20" y2="266.68" stroke="#8c8c8c" stroke-width="0.7"/>
<line x1="545.60" y1="266.68" x2="544.40" y2="266.68" stroke="#8c8c8c" stroke-width="0.7"/>
<line x1="319.00" y1="262.31" x2="320.20" y2="262.31" stroke="#8c8c8c" stroke-width="0.7"/>
<line x1="545.60" y1="262.31" x2="544.40" y2="262.31" stroke="#8c8c8c" stroke-width="0.7"/>
<text x="341.25" y="438.80" text-anchor="middle" font-size="6.7">50</text>
<text x="363.96" y="438.80" text-anchor="middle" font-size="6.7">100</text>
<text x="386.66" y="438.80" text-anchor="middle" font-size="6.7">150</text>
<text x="409.37" y="438.80" text-anchor="middle" font-size="6.7">200</text>
<text x="432.07" y="438.80" text-anchor="middle" font-size="6.7">250</text>
<text x="454.78" y="438.80" text-anchor="middle" font-size="6.7">300</text>
<text x="477.48" y="438.80" text-anchor="middle" font-size="6.7">350</text>
<text x="500.19" y="438.80" text-anchor="middle" font-size="6.7">400</text>
<text x="522.89" y="438.80" text-anchor="middle" font-size="6.7">450</text>
<text x="316.00" y="433.90" text-anchor="end" font-size="6.7">10<tspan dy="-2.5" font-size="5.6">0</tspan></text>
<text x="316.00" y="348.45" text-anchor="end" font-size="6.7">10<tspan dy="-2.5" font-size="5.6">1</tspan></text>
<text x="316.00" y="263.00" text-anchor="end" font-size="6.7">10<tspan dy="-2.5" font-size="5.6">2</tspan></text>
<text x="432.30" y="246.80" text-anchor="middle" font-size="7.8" font-weight="bold" fill="#111">F14</text>
<text x="432.30" y="450.90" text-anchor="middle" font-size="7.7">Iteration</text>
<text transform="translate(299.90,340.85) rotate(-90)" text-anchor="middle" font-size="7.9">Best score obtained so far</text>
<rect x="487.20" y="257.20" width="52.30" height="19.90" fill="#fff" stroke="#8c8c8c" stroke-width="0.9"/>
<line x1="491.30" y1="263.00" x2="512.20" y2="263.00" stroke="#e28a8a" stroke-width="1.2"/>
<line x1="491.30" y1="271.50" x2="512.20" y2="271.50" stroke="#686868" stroke-width="1.0"/>
<text x="514.20" y="265.60" font-size="6.4">DGO</text>
<text x="514.20" y="274.10" font-size="6.4">CDGO1</text>
<text x="417.90" y="467.00" text-anchor="middle" class="sub">(d)</text>
</g>
</g></svg>
</body></html>
